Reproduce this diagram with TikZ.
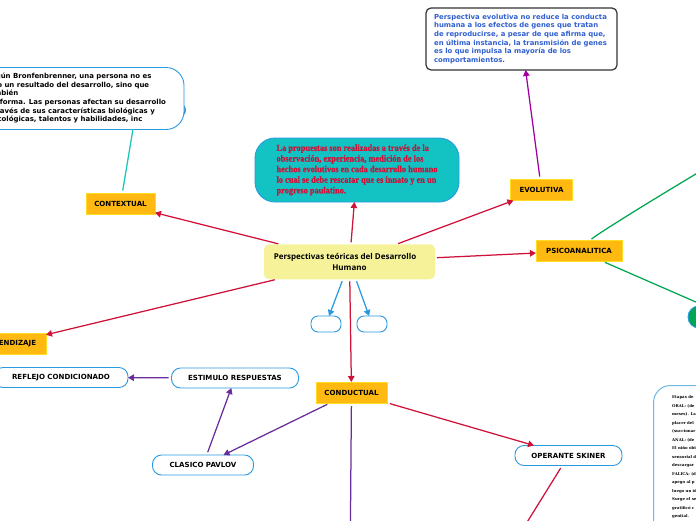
\documentclass[tikz,border=0pt]{standalone}
\usepackage{fontspec}
\setmainfont{DejaVu Sans}
\newfontfamily\ctrfont{Open Sans}
\newfontfamily\redfont[FakeStretch=0.9,FakeBold=0.6]{Liberation Serif}
\newfontfamily\tinyfont{DejaVu Serif}
\usetikzlibrary{arrows.meta}
\definecolor{cred}{HTML}{CE1238}
\definecolor{cpurple}{HTML}{6A2C9A}
\definecolor{cteal}{HTML}{1CC6B8}
\definecolor{cmag}{HTML}{A000A0}
\definecolor{cgreen}{HTML}{00A651}
\definecolor{cblue}{HTML}{2A9AE0}
\definecolor{corange}{HTML}{FFB911}
\definecolor{cgold}{HTML}{FFDD22}
\definecolor{cyell}{HTML}{F5F29A}
\definecolor{ctealbox}{HTML}{13C2C2}
\definecolor{ctext}{HTML}{3060D0}
\tikzset{
  base/.style={outer sep=0pt,inner sep=0pt},
  topic/.style={base,draw=cgold,fill=corange,line width=0.8pt,minimum height=21pt,font=\bfseries\fontsize{7.05}{8}\selectfont,text=black},
  capsule/.style={base,draw=cblue,fill=white,line width=0.9pt,rounded corners=9pt,minimum height=20pt,font=\bfseries\fontsize{7.05}{8}\selectfont,text=black},
  tinycap/.style={base,draw=cblue,fill=white,line width=0.9pt,rounded corners=7pt,minimum width=30pt,minimum height=16pt},
  conn/.style={line width=1.25pt,shorten <=2pt},
  tip/.style={-{Triangle[length=6pt,width=6.5pt]}},
  redarrow/.style={conn,tip,draw=cred},
  purplearrow/.style={conn,tip,draw=cpurple},
  bluearrow/.style={conn,tip,draw=cblue},
}
\begin{document}
\begin{tikzpicture}[x=1pt,y=-1pt]
\useasboundingbox (0,0) rectangle (696,520);
\clip (0,0) rectangle (696,520);
% blob behind Bronfenbrenner box
\fill[cblue] (179,110) circle (7);
% nodes
\node[base,draw=cblue,fill=white,line width=0.9pt,rounded corners=18pt,minimum width=218pt,minimum height=62pt,anchor=north east,align=left,text=black,font=\bfseries\fontsize{6.95}{8.6}\selectfont] (bronf) at (184,67.5) {\hspace*{2pt}\begin{tabular}{@{}l@{}}Según Bronfenbrenner, una persona no es\\sólo un resultado del desarrollo, sino que\\también\\conforma. Las personas afectan su desarrollo\\a través de sus características biológicas y\\psicológicas, talentos y habilidades, inc\end{tabular}};
\node[base,draw=cblue,fill=ctealbox,line width=0.9pt,rounded corners=20pt,minimum width=204pt,minimum height=64pt,text=cred,align=left,font=\redfont\bfseries\fontsize{9.3}{10.6}\selectfont] (teal) at (357,170) {\begin{tabular}{@{}l@{}}La propuestas son realizadas a través de la\\observación, experiencia, medición de los\\hechos evolutivos en cada desarrollo humano\\lo cual se debe rescatar que es innato y en un\\progreso paulatino.\end{tabular}};
\node[base,draw=black!80,fill=white,line width=1.2pt,rounded corners=5pt,minimum width=191pt,minimum height=62pt,text=ctext,font=\bfseries\fontsize{6.9}{8.6}\selectfont] (evotext) at (521.5,39) {\hspace*{-2pt}\begin{tabular}{@{}l@{}}Perspectiva evolutiva no reduce la conducta\\humana a los efectos de genes que tratan\\de reproducirse, a pesar de que afirma que,\\en última instancia, la transmisión de genes\\es lo que impulsa la mayoría de los\\comportamientos.\end{tabular}};
\node[base,fill=cyell,rounded corners=5pt,minimum width=171pt,minimum height=35pt,align=center,text=black,font=\ctrfont\bfseries\fontsize{8}{11}\selectfont] (central) at (349.5,261.8) {Perspectivas teóricas del Desarrollo\hspace*{9pt}\\Humano};
\node[topic,minimum width=69pt] (contextual) at (120.5,204) {CONTEXTUAL};
\node[topic,minimum width=62pt] (evolutiva) at (541.5,190) {EVOLUTIVA};
\node[topic,minimum width=86pt] (psico) at (579,251) {PSICOANALITICA};
\node[topic,minimum width=73pt] (aprend) at (9.5,343.5) {APRENDIZAJE};
\node[topic,minimum width=71pt] (conductual) at (351.5,392.5) {CONDUCTUAL};
\node[tinycap] (emptya) at (326,324) {};
\node[tinycap] (emptyb) at (372,324) {};
\node[capsule,minimum width=134pt] (reflejo) at (61,377.5) {REFLEJO CONDICIONADO};
\node[capsule,minimum width=127pt] (estimulo) at (235,378) {ESTIMULO RESPUESTAS};
\node[capsule,minimum width=101pt] (pavlov) at (203,465) {CLASICO PAVLOV};
\node[capsule,minimum width=107pt] (operante) at (568.5,455.5) {OPERANTE SKINER};
\node[base,draw=cblue,fill=cgreen,line width=0.9pt,circle,minimum size=22pt] (greendot) at (699,317) {};
\node[base,draw=cblue!70,fill=white,line width=1pt,rounded corners=17pt,minimum width=120pt,minimum height=200pt,anchor=north west] (etapas) at (653.5,385.5) {};
\node[anchor=north west,inner sep=0pt,align=left,text=black,font=\tinyfont\bfseries\fontsize{3.9}{8.5}\selectfont] (etapastext) at (672,395.5) {Etapas de\\ORAL: (de\\meses). La\\placer del\\(succionar\\ANAL: (de\\El niño obt\\sensorial d\\descargar\\FALICA: (d\\apego al p\\luego un id\\Surge el se\\gratificó c\\genital.};
% free ends and connector anchors
\coordinate (bronfend) at (133,129);
\coordinate (conductualfree) at (350.3,540);
\coordinate (operantefree) at (516,540);
\coordinate (greenfree) at (760,140);
\coordinate (greenlow) at (697,302.5);
% connectors
\draw[redarrow] (central) -- (contextual);
\draw[redarrow] (central) -- (aprend);
\draw[redarrow] (central) -- (teal);
\draw[redarrow] (central) -- (evolutiva);
\draw[redarrow] (central) -- (psico);
\draw[redarrow] (central) -- (conductual);
\draw[bluearrow] (central) -- (emptya);
\draw[bluearrow] (central) -- (emptyb);
\draw[conn,draw=cteal,shorten <=3pt] (contextual) -- (bronfend);
\draw[conn,tip,draw=cmag,shorten <=3pt] (evolutiva) -- (evotext);
\draw[redarrow,shorten <=3pt] (conductual) -- (operante);
\draw[purplearrow,shorten <=3pt] (conductual) -- (pavlov);
\draw[purplearrow,shorten <=3pt] (pavlov) -- (estimulo);
\draw[purplearrow,shorten <=3pt] (estimulo) -- (reflejo);
\draw[conn,draw=cpurple,shorten <=3pt] (conductual) -- (conductualfree);
\draw[conn,draw=cred,shorten <=3pt] (operante) -- (operantefree);
\draw[conn,draw=cgreen] (psico.north) ++(11,0) coordinate (psicotop) .. controls +(12,-11) and +(50,-36) .. (greenfree);
\draw[conn,draw=cgreen] (psico) -- (greenlow);
\end{tikzpicture}
\end{document}
